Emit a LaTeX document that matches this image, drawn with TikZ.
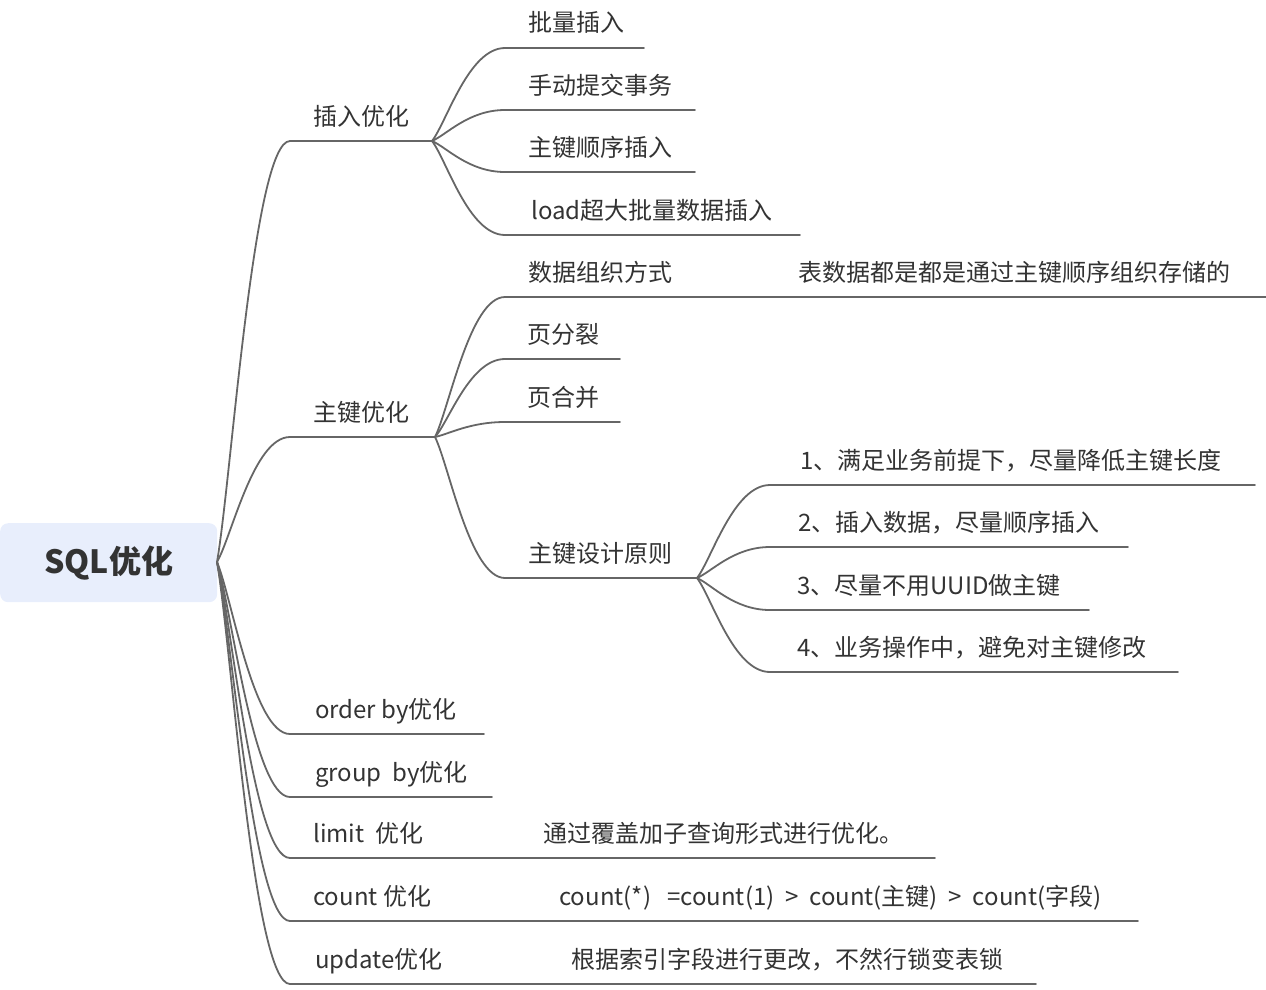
\documentclass[tikz,border=0pt]{standalone}
\usepackage{fontspec}
\setmainfont{Noto Sans CJK SC}
\usetikzlibrary{calc}
\definecolor{linec}{HTML}{666666}
\definecolor{txtc}{HTML}{333333}
\definecolor{rootfill}{HTML}{E8EEFC}
\tikzset{
  lbl/.style={anchor=base west, inner sep=0pt, text=txtc, font=\fontsize{24}{28}\selectfont},
  rootbox/.style={fill=rootfill, rounded corners=8pt, inner sep=0pt, minimum width=217pt, minimum height=79pt, text=txtc, font=\fontsize{32}{36}\selectfont\bfseries},
  conn/.style={draw=linec, line width=1.8pt, line cap=round},
}
\newcommand{\curveto}[2]{%
  \path ($(#1)!0.5!(#2)$) coordinate (cmid) ($(#1)!0.2!(#2)$) coordinate (cone);
  \draw[conn] (#1) .. controls (cone) and (cmid |- #2) .. (#2);}
\begin{document}
\begin{tikzpicture}[x=1pt,y=-1pt]
\useasboundingbox (0,0) rectangle (1266,989);
% root
\node[rootbox, anchor=north west] (root) at (0,523) {SQL优化};
\coordinate (rp) at (217,562);
% level 1
\node[lbl] (t1) at (313,125) {插入优化};
\coordinate (t1s) at (290,141); \coordinate (t1e) at (432,141);
\node[lbl] (t2) at (313,421) {主键优化};
\coordinate (t2s) at (290,437); \coordinate (t2e) at (435,437);
\node[lbl] (t3) at (315,718) {order by优化};
\coordinate (t3s) at (290,734); \coordinate (t3e) at (484,734);
\node[lbl] (t4) at (315,781) {group\ \ by优化};
\coordinate (t4s) at (290,797); \coordinate (t4e) at (492,797);
\node[lbl] (t5) at (313,842) {limit\ \ 优化};
\coordinate (t5s) at (290,858); \coordinate (t5e) at (516,858);
\node[lbl] (t6) at (313,905) {count 优化};
\coordinate (t6s) at (290,921); \coordinate (t6e) at (456,921);
\node[lbl] (t7) at (315,968) {update优化};
\coordinate (t7s) at (290,984); \coordinate (t7e) at (540,984);
% level 2 under 插入优化
\node[lbl] (a1) at (528,31) {批量插入};
\coordinate (a1s) at (505,48); \coordinate (a1e) at (644,48);
\node[lbl] (a2) at (528,94) {手动提交事务};
\coordinate (a2s) at (505,110); \coordinate (a2e) at (695,110);
\node[lbl] (a3) at (528,156) {主键顺序插入};
\coordinate (a3s) at (505,172); \coordinate (a3e) at (695,172);
\node[lbl] (a4) at (531,219) {load超大批量数据插入};
\coordinate (a4s) at (505,235); \coordinate (a4e) at (800,235);
% level 2 under 主键优化
\node[lbl] (b1) at (528,281) {数据组织方式};
\coordinate (b1s) at (505,297); \coordinate (b1e) at (775,297);
\node[lbl] (b2) at (527,343) {页分裂};
\coordinate (b2s) at (505,359); \coordinate (b2e) at (620,359);
\node[lbl] (b3) at (527,406) {页合并};
\coordinate (b3s) at (505,422); \coordinate (b3e) at (620,422);
\node[lbl] (b4) at (528,562) {主键设计原则};
\coordinate (b4s) at (505,578); \coordinate (b4e) at (697,578);
% level 3
\node[lbl] (b1c) at (798,281) {表数据都是都是通过主键顺序组织存储的};
\coordinate (b1ce) at (1266,297);
\node[lbl] (c1) at (800,469) {1、满足业务前提下，尽量降低主键长度};
\coordinate (c1s) at (770,485); \coordinate (c1e) at (1255,485);
\node[lbl] (c2) at (798,531) {2、插入数据，尽量顺序插入};
\coordinate (c2s) at (770,547); \coordinate (c2e) at (1128,547);
\node[lbl] (c3) at (797,594) {3、尽量不用UUID做主键};
\coordinate (c3s) at (770,610); \coordinate (c3e) at (1089,610);
\node[lbl] (c4) at (797,656) {4、业务操作中，避免对主键修改};
\coordinate (c4s) at (770,672); \coordinate (c4e) at (1178,672);
\node[lbl] (t5c) at (543,842) {通过覆盖加子查询形式进行优化。};
\coordinate (t5ce) at (935,858);
\node[lbl] (t6c) at (559,905) {count(*)\ \ \ =count(1)\ \ >\ \ count(主键)\ \ >\ \ count(字段)};
\coordinate (t6ce) at (1138,921);
\node[lbl] (t7c) at (571,968) {根据索引字段进行更改，不然行锁变表锁};
\coordinate (t7ce) at (1036,984);
% underlines
\foreach \n in {t1,t2,t3,t4,t5,t6,t7,a1,a2,a3,a4,b1,b2,b3,b4,c1,c2,c3,c4}
  {\draw[conn] (\n s) -- (\n e);}
\draw[conn] (b1e) -- (b1ce);
\draw[conn] (t5e) -- (t5ce);
\draw[conn] (t6e) -- (t6ce);
\draw[conn] (t7e) -- (t7ce);
% curves
\foreach \n in {t1,t2,t3,t4,t5,t6,t7} {\curveto{rp}{\n s}}
\foreach \n in {a1,a2,a3,a4} {\curveto{t1e}{\n s}}
\foreach \n in {b1,b2,b3,b4} {\curveto{t2e}{\n s}}
\foreach \n in {c1,c2,c3,c4} {\curveto{b4e}{\n s}}
\end{tikzpicture}
\end{document}
